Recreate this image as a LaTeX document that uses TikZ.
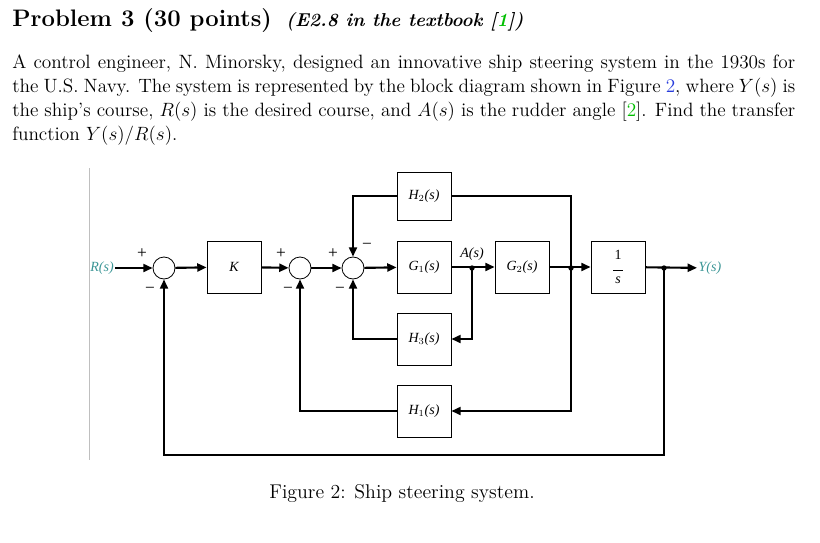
\documentclass[tikz,border=0pt]{standalone}
\usepackage{fontspec}
\newfontfamily\tms{Liberation Serif}
\usetikzlibrary{arrows.meta}
\definecolor{teal1}{RGB}{60,150,150}
\definecolor{cgreen}{RGB}{0,190,0}
\definecolor{cblue}{RGB}{40,60,220}
\begin{document}
\begin{tikzpicture}[x=0.75pt,y=-0.75pt,
  blk/.style={draw,line width=0.6pt,minimum width=54*0.75pt,minimum height=52*0.75pt,inner sep=0,font=\tms\itshape\fontsize{10.5}{12}\selectfont},
  sum/.style={draw,circle,line width=0.6pt,minimum size=22*0.75pt,inner sep=0},
  ln/.style={line width=1.6pt},
  ar/.style={ln,-{Triangle[length=7pt,width=6pt]}},
  dot/.style={circle,fill,inner sep=0,minimum size=4pt},
  sg/.style={font=\tms\fontsize{13}{13}\selectfont,inner sep=0},
  lab/.style={font=\tms\itshape\fontsize{10.5}{12}\selectfont,inner sep=1pt}]
\useasboundingbox (0,0) rectangle (820,542);
\node[anchor=west,inner sep=0,font=\bfseries\fontsize{17.9}{20}\selectfont] (title) at (12,21) {Problem 3 (30 points)\hspace{0.6em}{\fontsize{14}{16}\selectfont\itshape (E2.8 in the textbook [\textcolor{cgreen}{1}])}};
\node[anchor=north west,inner sep=0,text width=783*0.75pt,align=justify,font=\fontsize{14.45}{18}\selectfont] (body) at (12,54) {A control engineer, N. Minorsky, designed an innovative ship steering system in the 1930s for the U.S. Navy. The system is represented by the block diagram shown in Figure \textcolor{cblue}{2}, where $Y(s)$ is the ship's course, $R(s)$ is the desired course, and $A(s)$ is the rudder angle [\textcolor{cgreen}{2}]. Find the transfer function $Y(s)/R(s)$.};
\draw[gray!50,line width=0.4pt] (89,168) -- (89,460);
\node[inner sep=0,font=\fontsize{14.9}{16}\selectfont] (cap) at (402,494) {Figure 2: Ship steering system.};
% blocks
\node[lab,text=teal1] (R) at (102,268) {R(s)};
\node[sum] (s1) at (164,268) {};
\node[blk] (K) at (234,267) {K};
\node[sum] (s2) at (300,268) {};
\node[sum] (s3) at (353,268) {};
\node[blk] (G1) at (424,267) {G$_1$(s)};
\node[blk,minimum height=48*0.75pt] (H2) at (424,196) {H$_2$(s)};
\node[blk] (H3) at (424,339) {H$_3$(s)};
\node[blk] (H1) at (424,411) {H$_1$(s)};
\node[blk] (G2) at (522,267) {G$_2$(s)};
\node[blk,font=\tms\fontsize{10.5}{11}\selectfont,align=center] (I) at (618,267) {1\\[-3pt]\rule{7pt}{0.4pt}\\[-1pt]\textit{s}};
\node[lab,text=teal1,anchor=west] (Y) at (697,268) {Y(s)};
\node[dot] (jA) at (472,268) {};
\node[dot] (jB) at (571,268) {};
\node[dot] (jY) at (664,268) {};
\node[lab,anchor=south] (A) at (472,262) {A(s)};
\coordinate (c1) at (571,196);
\coordinate (c2) at (353,196);
\coordinate (c3) at (472,339);
\coordinate (c4) at (353,339);
\coordinate (c5) at (571,411);
\coordinate (c6) at (300,411);
\coordinate (c7) at (664,455);
\coordinate (c8) at (164,455);
% forward
\draw[ar] (R) -- (s1);
\draw[ar] (s1) -- (K);
\draw[ar] (K) -- (s2);
\draw[ar] (s2) -- (s3);
\draw[ar] (s3) -- (G1);
\draw[ar] (G1) -- (G2);
\draw[ar] (G2) -- (I);
\draw[ar] (I) -- (Y);
% feedback
\draw[ln] (jB.center) -- (c1) -- (H2.east);
\draw[ar] (H2.west) -- (c2) -- (s3);
\draw[ar] (jA.center) -- (c3) -- (H3.east);
\draw[ar] (H3.west) -- (c4) -- (s3);
\draw[ar] (jB.center) -- (c5) -- (H1.east);
\draw[ar] (H1.west) -- (c6) -- (s2);
\draw[ar] (jY.center) -- (c7) -- (c8) -- (s1);
% signs
\node[sg] (p1) at (142,254) {+};
\node[sg] (m1) at (150,290) {\textminus};
\node[sg] (p2) at (281,254) {+};
\node[sg] (m2) at (288,290) {\textminus};
\node[sg] (p3) at (333,254) {+};
\node[sg] (m3) at (340,290) {\textminus};
\node[sg] (m4) at (367,246) {\textminus};
\end{tikzpicture}
\end{document}
